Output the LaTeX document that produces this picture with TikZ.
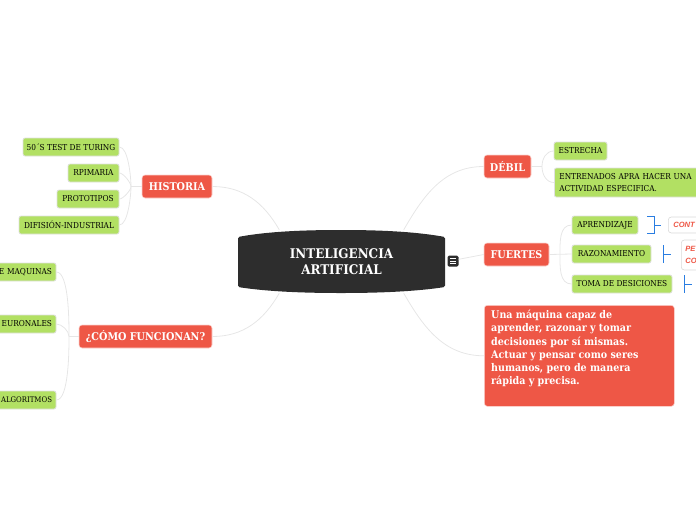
\documentclass[tikz,border=0pt]{standalone}
\usepackage{fontspec}
\setmainfont{DejaVu Serif Condensed}
\setsansfont{Liberation Sans}
\usetikzlibrary{positioning}

\definecolor{rootdark}{HTML}{2D2D2D}
\definecolor{topicred}{HTML}{EE5746}
\definecolor{leafgreen}{HTML}{B2E063}
\definecolor{linegray}{HTML}{E6E6E6}
\definecolor{bracketblue}{HTML}{2A7DE1}

\tikzset{
	topic/.style={fill=topicred,draw=topicred!25,line width=.6pt,rounded corners=3pt,text=white,inner sep=0pt,font=\bfseries\fontsize{10.7}{13}\selectfont},
	leaf/.style={fill=leafgreen,draw=black!12,line width=.8pt,rounded corners=2pt,text=black,inner sep=0pt,minimum height=18pt,font=\fontsize{8.2}{12}\selectfont},
	note/.style={fill=white,draw=black!15,line width=.6pt,rounded corners=3pt,text=topicred,inner sep=0pt,font=\sffamily\bfseries\itshape\fontsize{7.6}{12}\selectfont},
	link/.style={draw=linegray,line width=.8pt},
	bracket/.style={draw=bracketblue,line width=.8pt}
}

\begin{document}
\begin{tikzpicture}[x=1pt,y=-1pt]
	\useasboundingbox (0,0) rectangle (696,520);
	
	%central shape: barrel, text goes in the node on top
	\fill[rootdark,rounded corners=1.5pt] (238,237) .. controls (270,231) and (310,230) .. (341,230)
	.. controls (372,230) and (412,231) .. (445,237) -- (445,287)
	.. controls (412,292) and (372,293) .. (341,293)
	.. controls (310,293) and (270,292) .. (238,287) -- cycle;
	\node[minimum width=207pt,minimum height=63pt,inner sep=0pt,align=center,text=white,font=\bfseries\fontsize{13.3}{16}\selectfont] (root) at (341.5,261.5) {INTELIGENCIA\\ARTIFICIAL};
	
	%main topics
	\node[topic,minimum width=70pt,minimum height=23pt] (historia) at (177,186.5) {HISTORIA};
	\node[topic,minimum width=133pt,minimum height=23pt] (como) at (145.5,336.5) {¿CÓMO FUNCIONAN?};
	\node[topic,minimum width=47pt,minimum height=23pt] (debil) at (507.5,166.5) {DÉBIL};
	\node[topic,minimum width=65pt,minimum height=23pt] (fuertes) at (516.5,254.5) {FUERTES};
	\node[topic,minimum width=190pt,minimum height=101pt,anchor=north west] (maquina) at (484,305) {};
	\node[text=white,inner sep=0pt,align=left,anchor=north west,font=\bfseries\fontsize{10.6}{13.2}\selectfont] (maquinatext) at (491,310) {Una máquina capaz de\\aprender, razonar  y tomar\\decisiones por sí mismas.\\Actuar y pensar como seres\\humanos, pero de manera\\rápida y precisa.};
	
	%left leaves
	\node[leaf,minimum width=96pt] (turing) at (71,147) {50´S TEST DE TURING};
	\node[leaf,minimum width=51pt] (rpimaria) at (93.5,173) {RPIMARIA};
	\node[leaf,minimum width=62pt] (prototipos) at (88,199) {PROTOTIPOS};
	\node[leaf,minimum width=100pt] (difision) at (69,225) {DIFISIÓN-INDUSTRIAL};
	\node[leaf,minimum width=70pt,text width=62pt,align=right] (maquinas) at (21,272) {E  MAQUINAS};
	\node[leaf,minimum width=70pt,text width=62pt,align=right] (neuronales) at (21,324) {EURONALES};
	\node[leaf,minimum width=70pt,text width=62pt,align=right,font=\fontsize{7.7}{12}\selectfont] (algoritmos) at (21,400) {ALGORITMOS};
	
	%right leaves
	\node[leaf,minimum width=53pt] (estrecha) at (580.5,151) {ESTRECHA};
	\node[leaf,minimum width=150pt,minimum height=29pt,anchor=west,text width=140pt,align=left] (entrenados) at (554,182.5) {ENTRENADOS APRA HACER UNA\\ACTIVIDAD ESPECIFICA.};
	\node[leaf,minimum width=66pt] (aprendizaje) at (605,225) {APRENDIZAJE};
	\node[leaf,minimum width=79pt] (razonamiento) at (611.5,254) {RAZONAMIENTO};
	\node[leaf,minimum width=100pt] (toma) at (622,284) {TOMA DE DESICIONES};
	
	%notes, running off the page
	\node[note,minimum width=50pt,minimum height=16pt,anchor=west,text width=40pt,align=left] (cont) at (668,225) {CONT};
	\node[note,minimum width=40pt,minimum height=30pt,anchor=west,text width=32pt,align=left] (pe) at (681,255) {PE\\CO};
	
	%icon beside the root
	\node[fill=rootdark,rounded corners=1.5pt,minimum width=11pt,minimum height=11pt,inner sep=0pt] (icon) at (453,261) {};
	\foreach \iy in {-2.5,0,2.5}
		\draw[white,line width=.7pt] ([xshift=-3pt,yshift=\iy pt]icon.center) -- ([xshift=3pt,yshift=\iy pt]icon.center);
	
	%hubs where the branches split
	\coordinate (hubhistoria) at (131,186.5);
	\coordinate (hubcomo) at (69,336.5);
	\coordinate (hubdebil) at (542,166.5);
	\coordinate (hubfuertes) at (560,254.5);
	
	%root to topics
	\draw[link] (root.153) to[out=120,in=0] (historia.east);
	\draw[link] (root.-153) to[out=-120,in=0] (como.east);
	\draw[link] (root.27) to[out=60,in=180] (debil.west);
	\draw[link] (icon.north east) ++(0,4) -- (fuertes.west);
	\draw[link] (root.-27) to[out=-60,in=180] (maquina.west);
	
	%topics to leaves
	\draw[link] (historia.west) -- (hubhistoria);
	\draw[link] (hubhistoria) to[out=90,in=0,looseness=.55] (turing.east);
	\draw[link] (hubhistoria) to[out=90,in=0,looseness=.55] (rpimaria.east);
	\draw[link] (hubhistoria) to[out=-90,in=0,looseness=.55] (prototipos.east);
	\draw[link] (hubhistoria) to[out=-90,in=0,looseness=.55] (difision.east);
	
	\draw[link] (como.west) -- (hubcomo);
	\draw[link] (hubcomo) to[out=90,in=0,looseness=.5] (maquinas.east);
	\draw[link] (hubcomo) to[out=90,in=0,looseness=.8] (neuronales.east);
	\draw[link] (hubcomo) to[out=-90,in=0,looseness=.5] (algoritmos.east);
	
	\draw[link] (debil.east) -- (hubdebil);
	\draw[link] (hubdebil) to[out=90,in=180] (estrecha.west);
	\draw[link] (hubdebil) to[out=-90,in=180] (entrenados.west);
	
	\draw[link] (fuertes.east) -- (razonamiento.west);
	\draw[link] (hubfuertes) to[out=90,in=180] (aprendizaje.west);
	\draw[link] (hubfuertes) to[out=-90,in=180] (toma.west);
	
	%blue brackets
	\coordinate (brackone) at (654,225);
	\coordinate (bracktwo) at (663,254);
	\coordinate (brackthree) at (684.5,284);
	\draw[bracket] (647,216.5) -- (654,216.5) -- (654,233.5) -- (647,233.5);
	\draw[bracket] (brackone) -- (661,225);
	\draw[bracket] (663,245) -- (663,263);
	\draw[bracket] (bracktwo) -- (671,254);
	\draw[bracket] (684.5,275) -- (684.5,293);
	\draw[bracket] (brackthree) -- (692,284);
	
\end{tikzpicture}
\end{document}
